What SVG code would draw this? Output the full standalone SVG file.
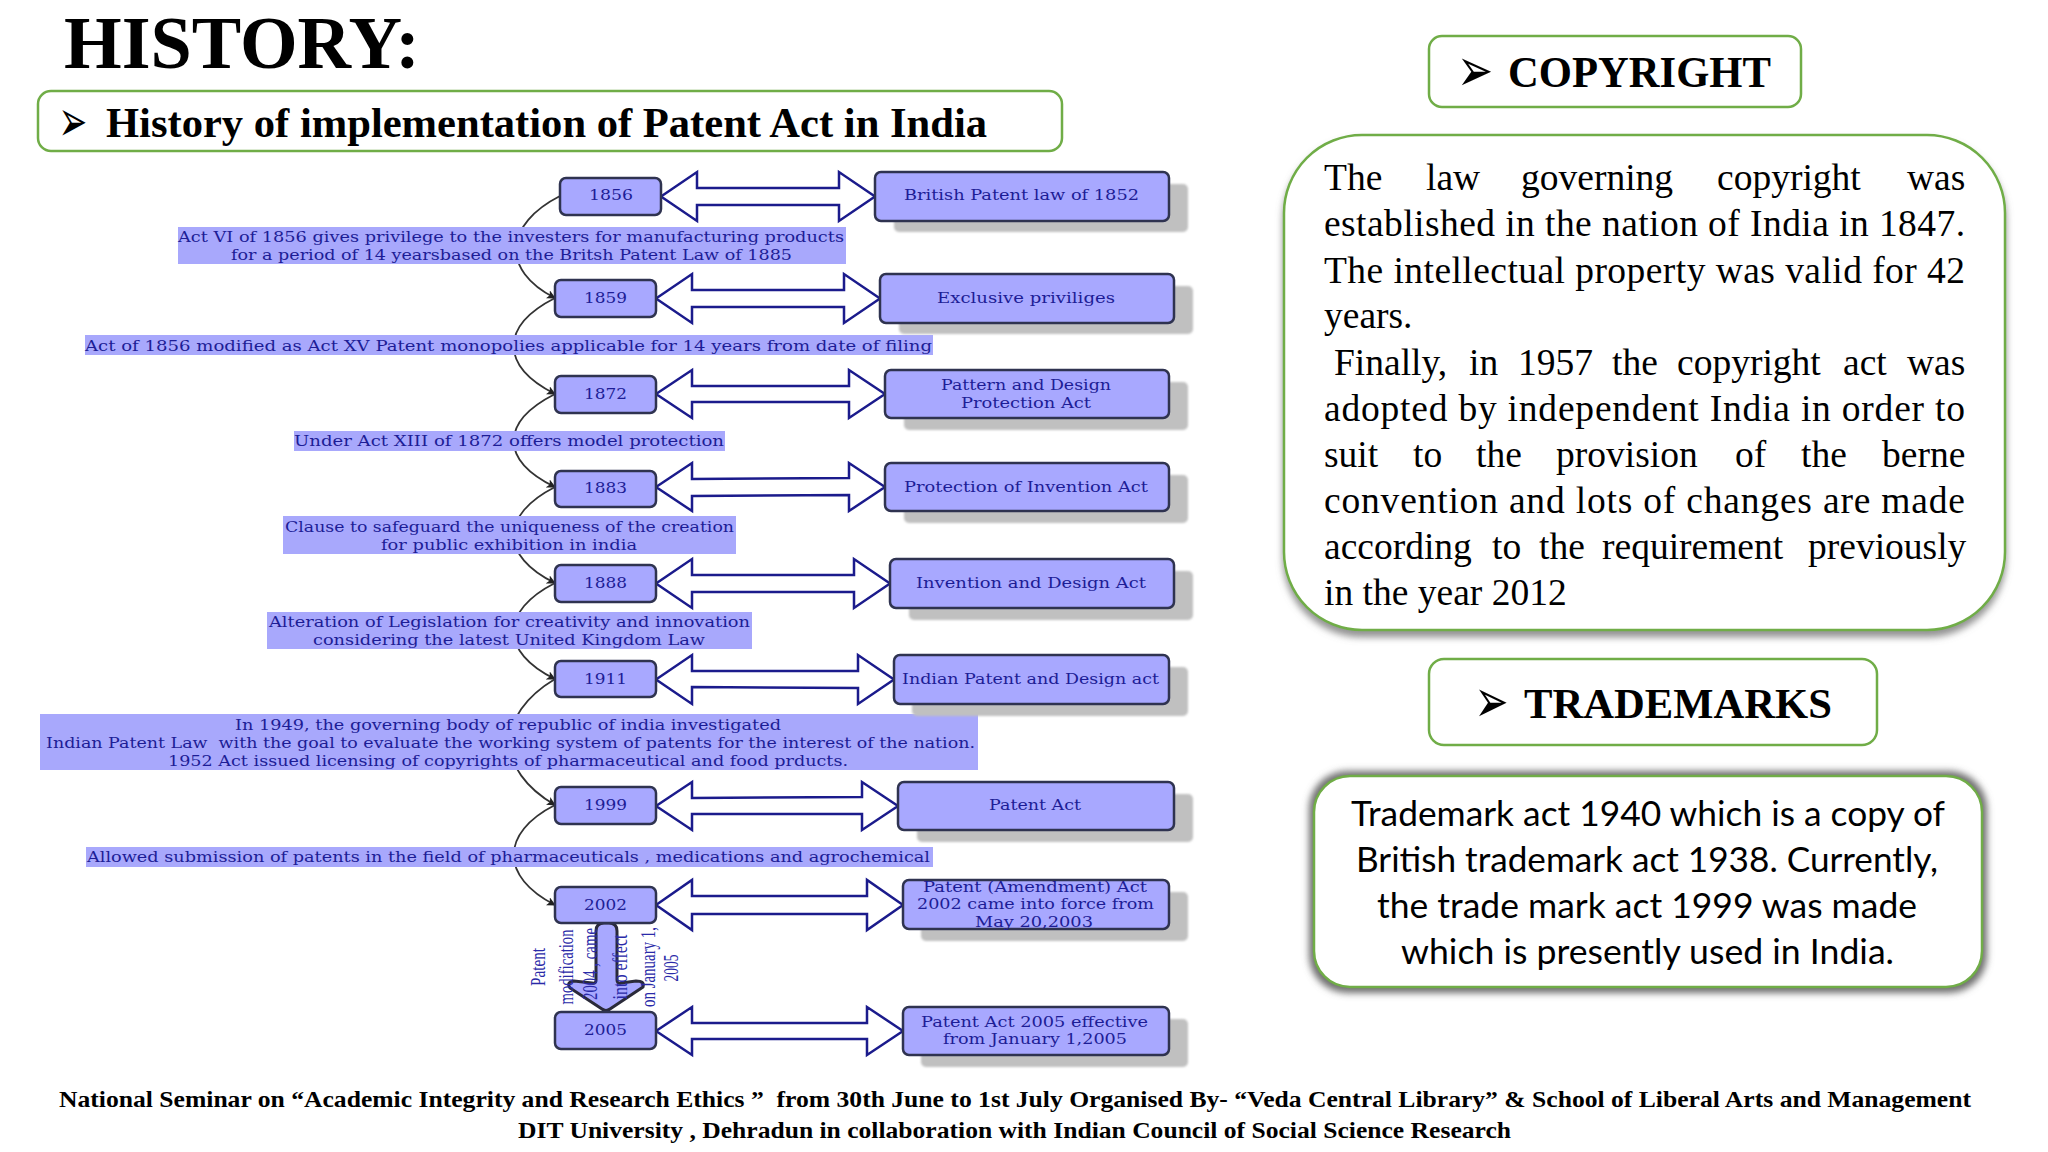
<svg xmlns="http://www.w3.org/2000/svg" width="2048" height="1152" viewBox="0 0 2048 1152">
<style>
text{white-space:pre}
.h{font-family:"Liberation Serif",serif;font-weight:bold;fill:#000}
.b{font-family:"Liberation Serif",serif;font-size:37.5px;fill:#000}
.t{font-family:Lato,"Open Sans",sans-serif;font-size:34px;fill:#000}
.f{font-family:"Liberation Serif",serif;font-weight:bold;font-size:24px;fill:#000}
.g{font-family:"DejaVu Sans",sans-serif;fill:#000}
.frame{fill:#fff;stroke:#70ad47;stroke-width:2.5}
.n{font-family:"DejaVu Serif",serif;font-size:14.5px;fill:#1d1d96}
.m{text-anchor:middle}
.box{fill:#a8a8ff;stroke:#2f3350;stroke-width:2.5}
.sh{fill:#c0c0c0;filter:url(#soft)}
.lab{fill:#a8a8fc}
.dbl{fill:#fff;stroke:#1b1b8c;stroke-width:2.5}
.cur{fill:none;stroke:#333;stroke-width:1.8;marker-end:url(#ah)}
.v{font-family:"Liberation Serif",serif;font-size:22px;fill:#2a2aa8}
</style>
<defs>
<marker id="ah" viewBox="0 0 10 10" refX="9" refY="5" markerWidth="9" markerHeight="9" markerUnits="userSpaceOnUse" orient="auto"><path d="M0 0L10 5L0 10L2.5 5Z" fill="#222"/></marker>
<filter id="soft" x="-3%" y="-10%" width="106%" height="120%"><feGaussianBlur stdDeviation="1"/></filter>
<filter id="ds1" x="-5%" y="-5%" width="110%" height="112%"><feDropShadow dx="0" dy="6" stdDeviation="3.5" flood-color="#777" flood-opacity=".8"/></filter>
<filter id="ds2" x="-5%" y="-10%" width="110%" height="120%"><feGaussianBlur stdDeviation="3.5"/></filter>
</defs>

<g id="title"><text class="h" x="64" y="68" font-size="74" textLength="356" lengthAdjust="spacingAndGlyphs">HISTORY:</text></g>
<g id="subtitle">
<rect class="frame" x="38" y="91" width="1024" height="60" rx="13"/>
<text class="g" transform="translate(58.5,140.5) scale(1.04,1.76)" font-size="33">➢</text>
<text class="h" x="106" y="137" font-size="42" textLength="881" lengthAdjust="spacingAndGlyphs">History of implementation of Patent Act in India</text>
</g>

<g id="connectors">
<path class="cur" d="M560 196C505 224 500 270 555 298"/>
<path class="cur" d="M555 298C500 326 500 366 555 394"/>
<path class="cur" d="M555 394C500 422 500 460 555 487"/>
<path class="cur" d="M555 487C500 515 500 556 555 583"/>
<path class="cur" d="M555 583C500 611 500 652 555 679"/>
<path class="cur" d="M555 679C495 715 495 770 555 805"/>
<path class="cur" d="M555 805C500 833 500 877 555 905"/>
<polygon class="dbl" points="661,196.5 697,172 697,188 839,188 839,172 875,196.5 839,221 839,205 697,205 697,221"/>
<polygon class="dbl" points="656,298.5 692,274 692,290 844,290 844,274 880,298.5 844,323 844,307 692,307 692,323"/>
<polygon class="dbl" points="656,394 692,370 692,386 849,386 849,370 885,394 849,418 849,402 692,402 692,418"/>
<polygon class="dbl" points="656,487 692,463 692,479 849,478 849,463 885,487 849,511 849,495 692,496 692,511"/>
<polygon class="dbl" points="656,583.5 692,559 692,575 854,575 854,559 890,583.5 854,608 854,592 692,592 692,608"/>
<polygon class="dbl" points="656,679.5 692,655 692,671 858,671 858,655 894,679.5 858,704 858,688 692,687 692,704"/>
<polygon class="dbl" points="656,806 692,782 692,798 862,797 862,782 898,806 862,830 862,814 692,814 692,830"/>
<polygon class="dbl" points="656,905 692,880 692,896 867,896 867,880 903,905 867,930 867,914 692,914 692,930"/>
<polygon class="dbl" points="656,1031 692,1007 692,1023 867,1023 867,1007 903,1031 867,1055 867,1039 692,1039 692,1055"/>
<path id="down" d="M604 923H609Q617 923 617 931V980Q617 984 621 983L636 981Q645 981 643 987L610 1009Q606 1012 602 1009L570 988Q566 982 574 981L592 983Q596 984 596 980V931Q596 923 604 923Z" fill="#a8a8ff" stroke="#2a2a3a" stroke-width="3"/>
</g>

<g id="down-label">
<text class="v m" transform="translate(545,967) rotate(-90)" textLength="38" lengthAdjust="spacingAndGlyphs">Patent</text>
<text class="v m" transform="translate(573,967) rotate(-90)" textLength="75" lengthAdjust="spacingAndGlyphs">modification</text>
<text class="v m" transform="translate(597,964) rotate(-90)" textLength="72" lengthAdjust="spacingAndGlyphs">2004 , came</text>
<text class="v m" transform="translate(627,967) rotate(-90)" textLength="65" lengthAdjust="spacingAndGlyphs">into effect</text>
<text class="v m" transform="translate(655,967) rotate(-90)" textLength="80" lengthAdjust="spacingAndGlyphs">on January 1,</text>
<text class="v m" transform="translate(678,968) rotate(-90)" textLength="27" lengthAdjust="spacingAndGlyphs">2005</text>
</g>

<g id="note-1856"><rect class="lab" x="178" y="227" width="668" height="37"/>
<text class="n" x="178" y="242" textLength="666" lengthAdjust="spacingAndGlyphs">Act VI of 1856 gives privilege to the investers for manufacturing products</text>
<text class="n" x="231" y="260" textLength="561" lengthAdjust="spacingAndGlyphs">for a period of 14 yearsbased on the Britsh Patent Law of 1885</text></g>
<g id="note-1859"><rect class="lab" x="85" y="335" width="848" height="20"/>
<text class="n" x="85" y="351" textLength="847" lengthAdjust="spacingAndGlyphs">Act of 1856 modified as Act XV Patent monopolies applicable for 14 years from date of filing</text></g>
<g id="note-1872"><rect class="lab" x="294" y="431" width="431" height="20"/>
<text class="n" x="294" y="446" textLength="430" lengthAdjust="spacingAndGlyphs">Under Act XIII of 1872 offers model protection</text></g>
<g id="note-1883"><rect class="lab" x="283" y="516" width="453" height="38"/>
<text class="n" x="285" y="532" textLength="449" lengthAdjust="spacingAndGlyphs">Clause to safeguard the uniqueness of the creation</text>
<text class="n" x="381" y="550" textLength="256" lengthAdjust="spacingAndGlyphs">for public exhibition in india</text></g>
<g id="note-1888"><rect class="lab" x="267" y="612" width="485" height="37"/>
<text class="n" x="269" y="627" textLength="481" lengthAdjust="spacingAndGlyphs">Alteration of Legislation for creativity and innovation</text>
<text class="n" x="313" y="645" textLength="392" lengthAdjust="spacingAndGlyphs">considering the latest United Kingdom Law</text></g>
<g id="note-1911"><rect class="lab" x="40" y="714" width="938" height="56"/>
<text class="n" x="235" y="730" textLength="546" lengthAdjust="spacingAndGlyphs">In 1949, the governing body of republic of india investigated</text>
<text class="n" x="46" y="748" textLength="929" lengthAdjust="spacingAndGlyphs">Indian Patent Law  with the goal to evaluate the working system of patents for the interest of the nation.</text>
<text class="n" x="168" y="766" textLength="680" lengthAdjust="spacingAndGlyphs">1952 Act issued licensing of copyrights of pharmaceutical and food prducts.</text></g>
<g id="note-1999"><rect class="lab" x="86" y="847" width="847" height="20"/>
<text class="n" x="87" y="862" textLength="843" lengthAdjust="spacingAndGlyphs">Allowed submission of patents in the field of pharmaceuticals , medications and agrochemical</text></g>

<g id="y1856"><rect class="box" x="560" y="178" width="101" height="37" rx="6"/><text class="n" x="589" y="200" textLength="44" lengthAdjust="spacingAndGlyphs">1856</text></g>
<g id="y1859"><rect class="box" x="555" y="280" width="101" height="37" rx="6"/><text class="n" x="584" y="303" textLength="43" lengthAdjust="spacingAndGlyphs">1859</text></g>
<g id="y1872"><rect class="box" x="555" y="376" width="101" height="37" rx="6"/><text class="n" x="584" y="399" textLength="43" lengthAdjust="spacingAndGlyphs">1872</text></g>
<g id="y1883"><rect class="box" x="555" y="471" width="101" height="36" rx="6"/><text class="n" x="584" y="493" textLength="43" lengthAdjust="spacingAndGlyphs">1883</text></g>
<g id="y1888"><rect class="box" x="555" y="565" width="101" height="37" rx="6"/><text class="n" x="584" y="588" textLength="43" lengthAdjust="spacingAndGlyphs">1888</text></g>
<g id="y1911"><rect class="box" x="555" y="661" width="101" height="36" rx="6"/><text class="n" x="584" y="684" textLength="43" lengthAdjust="spacingAndGlyphs">1911</text></g>
<g id="y1999"><rect class="box" x="555" y="787" width="101" height="37" rx="6"/><text class="n" x="584" y="810" textLength="43" lengthAdjust="spacingAndGlyphs">1999</text></g>
<g id="y2002"><rect class="box" x="555" y="887" width="101" height="36" rx="6"/><text class="n" x="584" y="910" textLength="43" lengthAdjust="spacingAndGlyphs">2002</text></g>
<g id="y2005"><rect class="box" x="555" y="1012" width="101" height="37" rx="6"/><text class="n" x="584" y="1035" textLength="43" lengthAdjust="spacingAndGlyphs">2005</text></g>

<g id="act-1852"><rect class="sh" x="894" y="184" width="294" height="48" rx="5"/><rect class="box" x="875" y="172" width="294" height="49" rx="6"/><text class="n" x="904" y="200" textLength="235" lengthAdjust="spacingAndGlyphs">British Patent law of 1852</text></g>
<g id="act-exclusive"><rect class="sh" x="899" y="286" width="294" height="48" rx="5"/><rect class="box" x="880" y="274" width="294" height="49" rx="6"/><text class="n" x="937" y="303" textLength="178" lengthAdjust="spacingAndGlyphs">Exclusive priviliges</text></g>
<g id="act-pattern"><rect class="sh" x="904" y="382" width="284" height="48" rx="5"/><rect class="box" x="885" y="370" width="284" height="48" rx="6"/><text class="n" x="941" y="390" textLength="170" lengthAdjust="spacingAndGlyphs">Pattern and Design</text><text class="n" x="961" y="408" textLength="130" lengthAdjust="spacingAndGlyphs">Protection Act</text></g>
<g id="act-protection"><rect class="sh" x="904" y="475" width="284" height="48" rx="5"/><rect class="box" x="885" y="463" width="284" height="48" rx="6"/><text class="n" x="904" y="492" textLength="244" lengthAdjust="spacingAndGlyphs">Protection of Invention Act</text></g>
<g id="act-invention"><rect class="sh" x="909" y="571" width="284" height="49" rx="5"/><rect class="box" x="890" y="559" width="284" height="49" rx="6"/><text class="n" x="916" y="588" textLength="230" lengthAdjust="spacingAndGlyphs">Invention and Design Act</text></g>
<g id="act-indian"><rect class="sh" x="912" y="667" width="276" height="49" rx="5"/><rect class="box" x="894" y="655" width="275" height="49" rx="6"/><text class="n" x="902" y="684" textLength="257" lengthAdjust="spacingAndGlyphs">Indian Patent and Design act</text></g>
<g id="act-patent"><rect class="sh" x="917" y="794" width="276" height="48" rx="5"/><rect class="box" x="898" y="782" width="276" height="48" rx="6"/><text class="n" x="989" y="810" textLength="92" lengthAdjust="spacingAndGlyphs">Patent Act</text></g>
<g id="act-amendment"><rect class="sh" x="921" y="892" width="267" height="49" rx="5"/><rect class="box" x="903" y="880" width="266" height="49" rx="6"/><text class="n" x="923" y="892" textLength="224" lengthAdjust="spacingAndGlyphs">Patent (Amendment) Act</text><text class="n" x="917" y="909" textLength="237" lengthAdjust="spacingAndGlyphs">2002 came into force from</text><text class="n" x="975" y="927" textLength="118" lengthAdjust="spacingAndGlyphs">May 20,2003</text></g>
<g id="act-2005"><rect class="sh" x="921" y="1019" width="267" height="48" rx="5"/><rect class="box" x="903" y="1007" width="266" height="48" rx="6"/><text class="n" x="921" y="1027" textLength="227" lengthAdjust="spacingAndGlyphs">Patent Act 2005 effective</text><text class="n" x="943" y="1044" textLength="184" lengthAdjust="spacingAndGlyphs">from January 1,2005</text></g>

<g id="copyright-head">
<rect class="frame" x="1429" y="36" width="372" height="71" rx="13"/>
<text class="g" transform="translate(1457,91) scale(1.2,1.7)" font-size="36">➢</text>
<text class="h" x="1508" y="87" font-size="44" textLength="263" lengthAdjust="spacingAndGlyphs">COPYRIGHT</text>
</g>
<g id="copyright-body">
<rect class="frame" x="1284" y="135" width="721" height="495" rx="78" filter="url(#ds1)"/>
<text class="b" y="190"><tspan x="1324">The</tspan><tspan x="1426">law</tspan><tspan x="1521">governing</tspan><tspan x="1717">copyright</tspan><tspan x="1907">was</tspan></text>
<text class="b" x="1324" y="236" textLength="641">established in the nation of India in 1847.</text>
<text class="b" x="1324" y="283" textLength="641">The intellectual property was valid for 42</text>
<text class="b" x="1324" y="328">years.</text>
<text class="b" y="375"><tspan x="1334">Finally,</tspan><tspan x="1469">in</tspan><tspan x="1518">1957</tspan><tspan x="1612">the</tspan><tspan x="1677">copyright</tspan><tspan x="1843">act</tspan><tspan x="1907">was</tspan></text>
<text class="b" x="1324" y="421" textLength="641">adopted by independent India in order to</text>
<text class="b" y="467"><tspan x="1324">suit</tspan><tspan x="1413">to</tspan><tspan x="1476">the</tspan><tspan x="1556">provision</tspan><tspan x="1735">of</tspan><tspan x="1801">the</tspan><tspan x="1882">berne</tspan></text>
<text class="b" x="1324" y="513" textLength="641">convention and lots of changes are made</text>
<text class="b" y="559"><tspan x="1324">according</tspan><tspan x="1492">to</tspan><tspan x="1539">the</tspan><tspan x="1602">requirement</tspan><tspan x="1808">previously</tspan></text>
<text class="b" x="1324" y="605">in the year 2012</text>
</g>
<g id="trademarks-head">
<rect class="frame" x="1429" y="659" width="448" height="86" rx="15"/>
<text class="g" transform="translate(1474.5,722) scale(1.13,1.7)" font-size="36">➢</text>
<text class="h" x="1524" y="718" font-size="43" textLength="308" lengthAdjust="spacingAndGlyphs">TRADEMARKS</text>
</g>
<g id="trademarks-body">
<rect x="1309" y="771" width="678" height="222" rx="38" fill="#6e6e6e" filter="url(#ds2)"/>
<rect class="frame" x="1314" y="776" width="668" height="211" rx="36"/>
<text class="t" x="1351" y="826" textLength="594" lengthAdjust="spacingAndGlyphs">Trademark act 1940 which is a copy of</text>
<text class="t" x="1356" y="872" textLength="582" lengthAdjust="spacingAndGlyphs">British trademark act 1938. Currently,</text>
<text class="t" x="1377" y="918" textLength="540" lengthAdjust="spacingAndGlyphs">the trade mark act 1999 was made</text>
<text class="t" x="1401" y="964" textLength="493" lengthAdjust="spacingAndGlyphs">which is presently used in India.</text>
</g>
<g id="footer">
<text class="f" x="59" y="1107" textLength="1912" lengthAdjust="spacingAndGlyphs">National Seminar on “Academic Integrity and Research Ethics ”  from 30th June to 1st July Organised By- “Veda Central Library” &amp; School of Liberal Arts and Management</text>
<text class="f" x="518" y="1138" textLength="993" lengthAdjust="spacingAndGlyphs">DIT University , Dehradun in collaboration with Indian Council of Social Science Research</text>
</g>
</svg>
